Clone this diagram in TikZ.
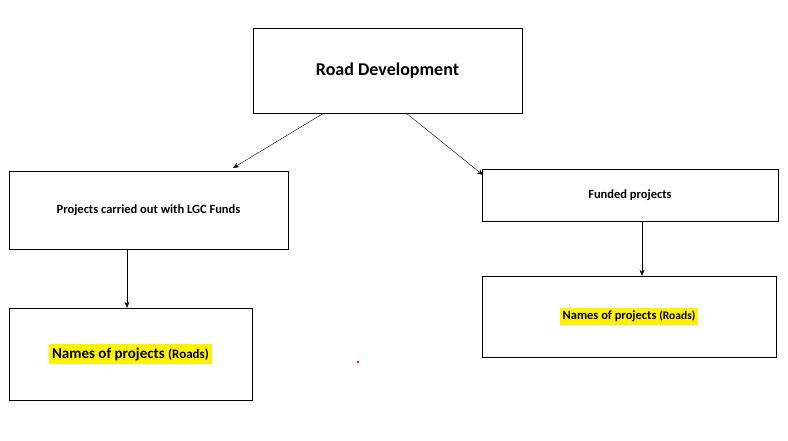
\documentclass[tikz,border=0pt]{standalone}
\usepackage{fontspec}
\setmainfont{Carlito}
\usetikzlibrary{arrows.meta, positioning}

\begin{document}
\begin{tikzpicture}[x=1pt, y=-1pt,
  boxnode/.style={draw, thin, inner sep=0pt, font=\bfseries},
  hl/.style={fill=yellow, inner sep=1pt},
  conn/.style={-{Stealth[length=6pt, width=5pt]}, thin}]
\useasboundingbox (0,0) rectangle (788,440);
\node[boxnode, minimum width=269pt, minimum height=85pt, font=\bfseries\fontsize{18}{20}\selectfont] at (387.5,70.5) (road) {Road Development};
\node[boxnode, minimum width=279pt, minimum height=78pt, font=\bfseries\fontsize{12.5}{14}\selectfont] at (148.5,210) (lgc) {Projects carried out with LGC Funds};
\node[boxnode, minimum width=296pt, minimum height=52pt, font=\bfseries\fontsize{12.5}{14}\selectfont] at (630,195) (funded) {Funded projects};
\node[boxnode, minimum width=243pt, minimum height=92pt] at (130.5,354) (namesl) {\colorbox{yellow}{\fontsize{15}{17}\selectfont Names of projects \fontsize{13}{15}\selectfont(Roads)}};
\node[boxnode, minimum width=294pt, minimum height=81pt] at (629,316.5) (namesr) {\colorbox{yellow}{\fontsize{12.5}{14}\selectfont Names of projects \fontsize{11.5}{13}\selectfont(Roads)}};
\coordinate (roadl) at (324,113);
\coordinate (roadr) at (406,113);
\coordinate (lgcin) at (233,168);
\coordinate (fundin) at (483,175);
\draw[conn] (roadl) -- (lgcin);
\draw[conn] (roadr) -- (fundin);
\draw[conn] (lgc.south -| 127,0) -- (namesl.north -| 127,0);
\draw[conn] (funded.south -| 642,0) -- (namesr.north -| 642,0);
\fill[red] (358,362) circle (1.3pt);
\end{tikzpicture}
\end{document}
